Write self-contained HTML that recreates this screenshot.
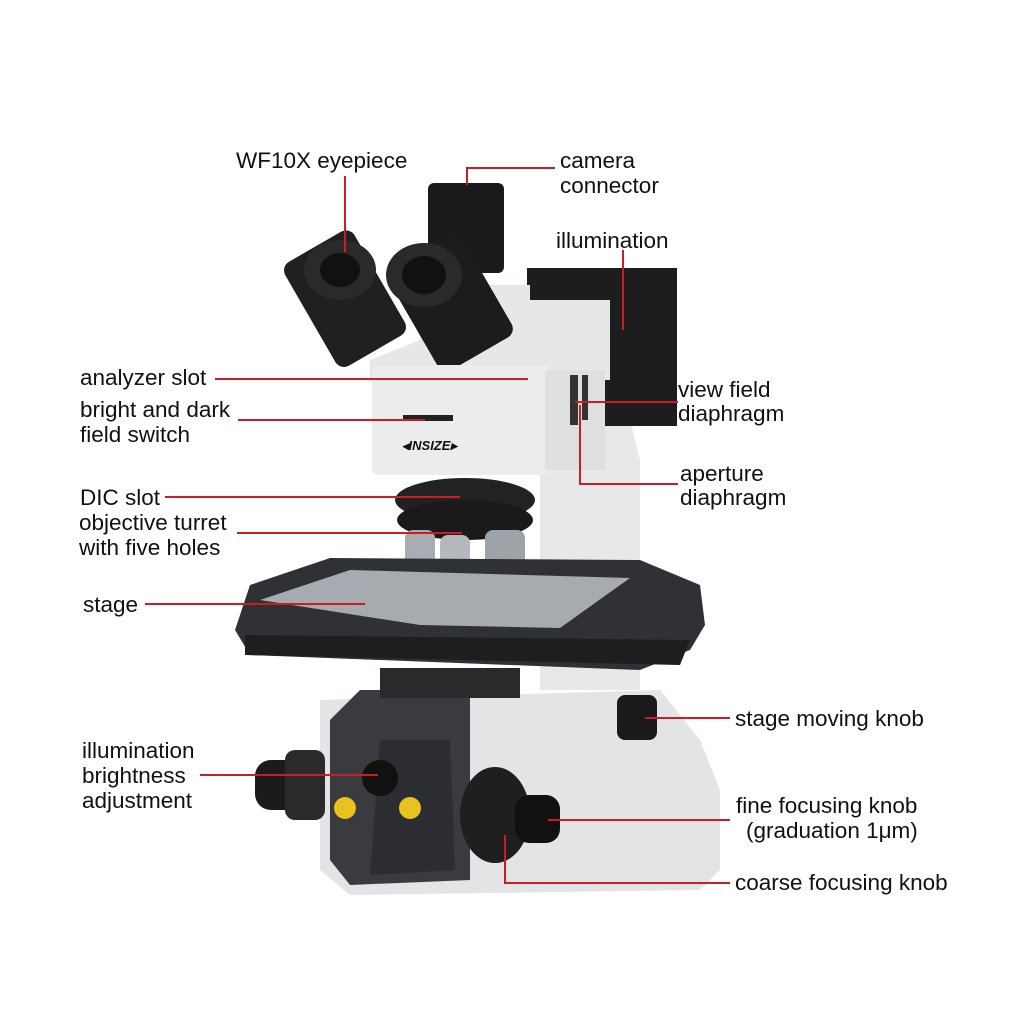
<!DOCTYPE html>
<html><head><style>
body{margin:0;background:#fff}
svg text{font-family:"Liberation Sans",Arial,sans-serif;font-size:22.5px;fill:#111}
</style></head><body>
<svg width="1030" height="1030" viewBox="0 0 1030 1030" xmlns="http://www.w3.org/2000/svg">
<rect width="1030" height="1030" fill="#fff"/>
<!-- base -->
<path d="M320 700 L660 690 L700 740 L720 790 L720 870 L700 890 L350 895 L320 870 Z" fill="#e3e4e6"/>
<path d="M360 690 L470 690 L470 880 L350 885 L330 860 L330 720 Z" fill="#3a3b3e"/>
<path d="M380 740 L450 740 L455 870 L370 875 Z" fill="#2c2d30"/>
<!-- pillar -->
<path d="M540 420 L630 420 L640 460 L640 690 L540 690 Z" fill="#e7e8ea"/>
<!-- illumination box -->
<rect x="527" y="268" width="150" height="158" fill="#1d1d20"/>
<rect x="540" y="310" width="70" height="10" fill="#777"/>
<!-- head upper -->
<path d="M420 285 L530 285 L530 300 L610 300 L610 380 L370 380 L370 360 L420 340 Z" fill="#e6e7e9"/>
<!-- camera -->
<rect x="428" y="183" width="76" height="90" rx="6" fill="#1a1a1c"/>
<!-- eyepieces -->
<g transform="rotate(-30 340 290)"><rect x="300" y="240" width="80" height="120" rx="10" fill="#202022"/></g>
<g transform="rotate(-30 440 290)"><rect x="400" y="245" width="85" height="120" rx="10" fill="#1c1c1e"/></g>
<ellipse cx="340" cy="270" rx="36" ry="30" fill="#2a2a2c"/><ellipse cx="340" cy="270" rx="20" ry="17" fill="#111"/>
<ellipse cx="424" cy="275" rx="38" ry="32" fill="#2a2a2c"/><ellipse cx="424" cy="275" rx="22" ry="19" fill="#111"/>
<!-- head lower block -->
<rect x="372" y="365" width="178" height="110" rx="6" fill="#ebecee"/>
<rect x="545" y="370" width="60" height="100" fill="#dedfe1"/>
<rect x="403" y="415" width="50" height="6" fill="#222"/>
<text x="402" y="450" style="font-size:13px;font-weight:bold;font-style:italic">◂INSIZE▸</text>
<rect x="570" y="375" width="8" height="50" fill="#333"/><rect x="582" y="375" width="6" height="45" fill="#333"/>
<!-- turret -->
<ellipse cx="465" cy="500" rx="70" ry="22" fill="#222"/>
<ellipse cx="465" cy="520" rx="68" ry="20" fill="#1a1a1a"/>
<rect x="405" y="530" width="30" height="35" rx="8" fill="#a9adb2"/>
<rect x="440" y="535" width="30" height="45" rx="8" fill="#b5b9be"/>
<rect x="485" y="530" width="40" height="45" rx="8" fill="#9ea3a8"/>
<!-- stage -->
<path d="M250 585 L330 558 L640 560 L700 585 L705 625 L690 650 L640 670 L250 655 L235 630 Z" fill="#303134"/>
<path d="M260 600 L350 570 L630 578 L560 628 L420 625 Z" fill="#a7aaae"/>
<path d="M245 635 L690 640 L680 665 L245 655 Z" fill="#1e1e20"/>
<rect x="380" y="668" width="140" height="30" fill="#2a2a2c"/>
<!-- knobs -->
<rect x="255" y="760" width="50" height="50" rx="16" fill="#1b1b1d"/>
<rect x="285" y="750" width="40" height="70" rx="10" fill="#2a2a2c"/>
<circle cx="380" cy="778" r="18" fill="#111"/>
<circle cx="345" cy="808" r="11" fill="#e8c21e"/><circle cx="410" cy="808" r="11" fill="#e8c21e"/>
<ellipse cx="495" cy="815" rx="35" ry="48" fill="#1f1f21"/>
<rect x="515" y="795" width="45" height="48" rx="14" fill="#111"/>
<rect x="617" y="695" width="40" height="45" rx="8" fill="#1a1a1c"/>
<!-- leader lines -->
<g stroke="#cc1c24" stroke-width="2" fill="none">
<path d="M345 176 V252"/>
<path d="M555 168 H467 V185"/>
<path d="M623 250 V330"/>
<path d="M215 379 H528"/>
<path d="M238 420 H425"/>
<path d="M678 402 H575"/>
<path d="M678 484 H580 V405"/>
<path d="M165 497 H460"/>
<path d="M237 533 H462"/>
<path d="M145 604 H365"/>
<path d="M730 718 H645"/>
<path d="M200 775 H378"/>
<path d="M730 820 H548"/>
<path d="M730 883 H505 V835"/>
</g>
<!-- labels -->
<text x="236" y="168">WF10X eyepiece</text>
<text x="560" y="168">camera</text>
<text x="560" y="193">connector</text>
<text x="556" y="248">illumination</text>
<text x="80" y="385">analyzer slot</text>
<text x="80" y="417">bright and  dark</text>
<text x="80" y="442">field  switch</text>
<text x="678" y="397">view  field</text>
<text x="678" y="421">diaphragm</text>
<text x="680" y="481">aperture</text>
<text x="680" y="505">diaphragm</text>
<text x="80" y="505">DIC slot</text>
<text x="79" y="530">objective turret</text>
<text x="79" y="555">with five holes</text>
<text x="83" y="612">stage</text>
<text x="735" y="726">stage moving knob</text>
<text x="82" y="758">illumination</text>
<text x="82" y="783">brightness</text>
<text x="82" y="808">adjustment</text>
<text x="736" y="813">fine focusing knob</text>
<text x="746" y="838">(graduation 1μm)</text>
<text x="735" y="890">coarse focusing knob</text>
</svg>
</body></html>
